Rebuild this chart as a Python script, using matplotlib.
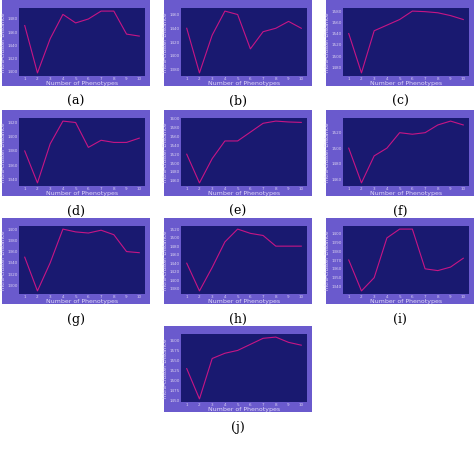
import matplotlib.pyplot as plt

phenotypes = list(range(1, 11))
labels = ["(a)", "(b)", "(c)", "(d)", "(e)", "(f)", "(g)", "(h)", "(i)", "(j)"]
series = [
    [1470, 1398, 1450, 1487, 1474, 1480, 1492, 1492, 1457, 1454],
    [1440, 1375, 1430, 1465, 1460, 1410, 1435, 1440, 1450, 1440],
    [1540, 1470, 1545, 1555, 1565, 1580, 1579, 1577, 1572, 1565],
    [1380, 1335, 1390, 1422, 1420, 1385, 1395, 1392, 1392, 1398],
    [1520, 1455, 1510, 1550, 1550, 1570, 1590, 1595, 1593, 1592],
    [1500, 1455, 1490, 1500, 1520, 1518, 1520, 1530, 1535, 1530],
    [1350, 1290, 1340, 1400, 1395, 1393, 1398, 1390, 1360, 1358],
    [1440, 1375, 1430, 1490, 1520, 1510, 1505, 1480, 1480, 1480],
    [1370, 1335, 1350, 1395, 1405, 1405, 1360, 1358, 1362, 1372],
    [1530, 1455, 1555, 1568, 1575, 1590, 1605, 1608, 1595, 1588],
]

W = 474
fig = plt.figure(figsize=(4.74, 4.74), dpi=100)
col_x = [2, 164, 326]
row_y = [0, 110, 218, 326]
pw, ph = 148, 86

for i, vals in enumerate(series):
    r, c = divmod(i, 3)
    x0 = col_x[c] if i < 9 else col_x[1]
    y0 = row_y[r]
    # purple panel background
    bg = fig.add_axes([x0 / W, 1 - (y0 + ph) / W, pw / W, ph / W], zorder=0)
    bg.set_facecolor("#6a5acd")
    bg.set_xticks([])
    bg.set_yticks([])
    for s in bg.spines.values():
        s.set_visible(False)

    ax = fig.add_axes([(x0 + 17) / W, 1 - (y0 + 76) / W, 126 / W, 68 / W], zorder=1)
    ax.set_facecolor("#191970")
    ax.plot(phenotypes, vals, color="#c71585", linewidth=0.8)
    ax.set_xticks(phenotypes)
    ax.tick_params(labelsize=3, colors="#d8d0f0", length=0, pad=1)
    for s in ax.spines.values():
        s.set_visible(False)
    ax.set_xlabel("Number of Phenotypes", fontsize=4.5, color="#e0d8f8", labelpad=0)
    ax.set_ylabel("Intra-cluster Distance", fontsize=4, color="#e0d8f8", labelpad=1)
    fig.text((x0 + pw / 2) / W, 1 - (y0 + ph + 15) / W, labels[i], ha="center", va="center",
             fontsize=9, family="DejaVu Serif")

fig.savefig("out.png", dpi=100)
